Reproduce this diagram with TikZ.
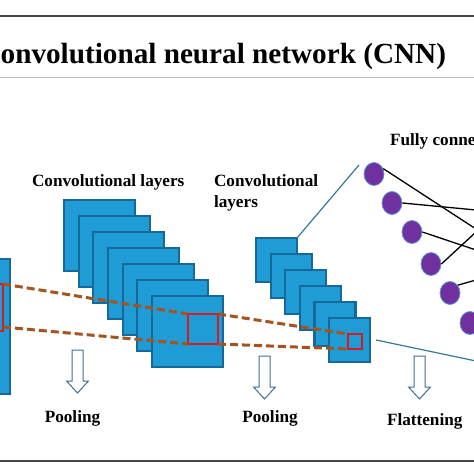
\documentclass[tikz,border=0pt]{standalone}
\usepackage{fontspec}
\setmainfont{Liberation Serif}
\usetikzlibrary{shapes.geometric}
\definecolor{fmblue}{RGB}{31,155,214}
\definecolor{fmedge}{RGB}{22,104,152}
\definecolor{redsq}{RGB}{214,28,34}
\definecolor{brdash}{RGB}{165,84,30}
\definecolor{purp}{RGB}{112,48,160}
\definecolor{purpedge}{RGB}{91,155,213}
\definecolor{tealline}{RGB}{52,122,152}
\definecolor{arrowedge}{RGB}{62,110,150}
\definecolor{rulegray}{RGB}{70,70,70}
\definecolor{lightrule}{RGB}{190,190,190}
\begin{document}
\begin{tikzpicture}[x=1pt,y=-1pt,
  fmap/.style={rectangle, draw=fmedge, fill=fmblue, line width=2.2pt, inner sep=0pt, outer sep=0pt, anchor=north west},
  bigmap/.style={fmap, minimum width=71pt, minimum height=71pt},
  smallmap/.style={fmap, minimum width=41pt, minimum height=44pt},
  redbox/.style={rectangle, draw=redsq, line width=2pt, inner sep=0pt, outer sep=0pt, anchor=north west},
  dashline/.style={draw=brdash, line width=3pt, dash pattern=on 8pt off 4pt},
  neuron/.style={ellipse, fill=purp, draw=purpedge, line width=0.8pt, minimum width=20pt, minimum height=23pt, inner sep=0pt},
  fcline/.style={draw=black, line width=1.3pt},
  zoomline/.style={draw=tealline, line width=1.2pt},
  lbl/.style={font=\fontsize{17.2}{21}\selectfont\bfseries, inner sep=0pt, outer sep=0pt},
  hollowarrow/.pic={\draw[arrowedge, line width=1pt, fill=white] (-5.5,0) -- (-5.5,31) -- (-11,31) -- (0,43) -- (11,31) -- (5.5,31) -- (5.5,0) -- cycle;}
]
\useasboundingbox (0,0) rectangle (474,474);
\clip (0,0) rectangle (474,474);
\fill[white] (0,0) rectangle (474,474);

% rules
\draw[rulegray, line width=1.5pt] (0,16) -- (474,16);
\draw[lightrule, line width=1pt] (0,77) -- (474,77);
\draw[rulegray, line width=2.5pt] (0,461) -- (474,461);

% title
\node[font=\fontsize{29.2}{32}\selectfont\bfseries, inner sep=0pt, anchor=base west] (title) at (0.5,63) {onvolutional neural network (CNN)};

% input layer
\node[fmap, minimum width=60pt, minimum height=135pt] (inp) at (-50,259) {};
\node[redbox, minimum width=43pt, minimum height=47pt] (r1) at (-40,284) {};

% first convolutional stack
\foreach \i in {0,...,6} {
  \node[bigmap] (s\i) at ({64+\i*14.67},{200+\i*16}) {};
}
\node[redbox, minimum width=30pt, minimum height=30pt] (r2) at (188,314) {};

% second convolutional stack
\foreach \i in {0,...,5} {
  \node[smallmap] (t\i) at ({256+\i*14.6},{238+\i*16}) {};
}
\node[redbox, minimum width=14pt, minimum height=15pt] (r3) at (348,334) {};

% dashed receptive-field lines
\draw[dashline] (r1.north east) -- (r2.north west);
\draw[dashline] ([yshift=4pt]r1.south east) -- (r2.south west);
\draw[dashline] (r2.north east) -- (r3.north west);
\draw[dashline] (r2.south east) -- (r3.south west);

% labels
\node[lbl, anchor=base west] (lab1) at (32,186) {Convolutional layers};
\node[lbl, anchor=north west, align=left] (lab2) at (214,174.5) {Convolutional\\layers};
\node[lbl, anchor=base west] (lab3) at (390,145) {Fully conne};
\node[lbl, anchor=base] (pool1) at (72.5,422) {Pooling};
\node[lbl, anchor=base] (pool2) at (270,422) {Pooling};
\node[lbl, anchor=base west] (flat) at (387,425) {Flattening};

% down arrows
\pic (a1) at (77.5,350) {hollowarrow};
\pic (a2) at (264.5,356) {hollowarrow};
\pic (a3) at (419.5,356) {hollowarrow};

% neurons
\node[neuron] (c1) at (374,174) {};
\node[neuron] (c2) at (392,203) {};
\node[neuron] (c3) at (412,232) {};
\node[neuron] (c4) at (431,264) {};
\node[neuron] (c5) at (450,293) {};
\node[neuron] (c6) at (470,323) {};

% zoom lines
\coordinate (f1) at (359,165);
\coordinate (g1) at (376,340);
\coordinate (g2) at (476,361);
\draw[zoomline] (t0.north east) -- (f1);
\draw[zoomline] (g1) -- (g2);

% fully connected lines
\coordinate (e1) at (476,229);
\coordinate (e2) at (476,210);
\coordinate (e3) at (476,250);
\coordinate (e4) at (476,232);
\coordinate (e5) at (476,280);
\draw[fcline] (c1.30) -- (e1);
\draw[fcline] (c2.east) -- (e2);
\draw[fcline] (c3.east) -- (e3);
\draw[fcline] (c4.east) -- (e4);
\draw[fcline] (c5.45) -- (e5);
\end{tikzpicture}
\end{document}
